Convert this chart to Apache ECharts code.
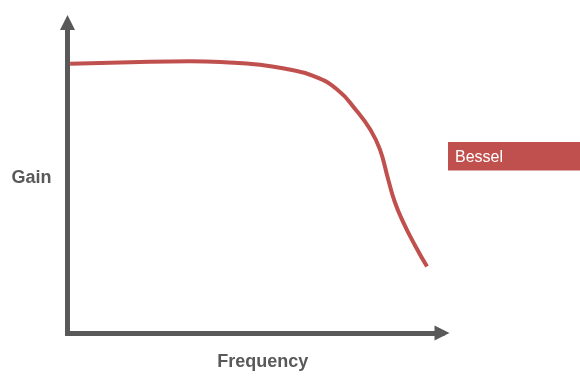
<!DOCTYPE html>
<html>
<head>
<meta charset="utf-8">
<script src="https://cdn.jsdelivr.net/npm/echarts@6/dist/echarts.min.js"></script>
<style>html,body{margin:0;padding:0;background:#fff;}#c{width:580px;height:376px;}</style>
</head>
<body>
<div id="c"></div>
<script>
const seriesName = 'Bessel';
const frequency = [0.7, 16.7, 32.7, 42, 51.4, 58.5, 65.6, 72, 77.3, 80.8, 83.4, 85.6, 87.4, 89.6, 92.8, 96];
const gain = [86.7, 87.2, 87.5, 87.2, 86.4, 85.0, 82.8, 78.4, 71.4, 65.6, 59.2, 49.6, 42.2, 35.8, 28.2, 21.4];
const xName = 'Frequency';
const yName = 'Gain';

const chart = echarts.init(document.getElementById('c'), null, {renderer: 'canvas'});
const axisColor = '#595959';
const nameStyle = {fontFamily: 'Liberation Sans', fontWeight: 'bold', fontSize: 18, color: axisColor};
const axisCommon = {
  type: 'value', min: 0, max: 100,
  splitLine: {show: false}, axisTick: {show: false}, axisLabel: {show: false},
  axisLine: {show: true, symbol: ['none', 'triangle'], symbolSize: [15, 15], symbolOffset: [0, 0],
    lineStyle: {color: axisColor, width: 5, cap: 'square'}},
  nameLocation: 'middle'
};
chart.setOption({
  animation: false,
  grid: {left: 67.5, right: 138, top: 22.5, bottom: 41},
  xAxis: Object.assign({}, axisCommon, {name: xName, nameGap: 20,
    nameTextStyle: Object.assign({}, nameStyle, {padding: [0, 0, 0, 16]})}),
  yAxis: Object.assign({}, axisCommon, {name: yName, nameGap: 16, nameRotate: 0,
    nameTextStyle: nameStyle}),
  legend: {
    data: [seriesName], left: 448, top: 142, orient: 'vertical',
    backgroundColor: '#C0504D', borderRadius: 0,
    padding: [7, 77, 5, 2], icon: 'none', itemWidth: 0, itemHeight: 17,
    textStyle: {color: '#fff', fontFamily: 'Liberation Sans', fontSize: 16}
  },
  series: [{
    name: seriesName, type: 'line', smooth: 0.5, showSymbol: false,
    data: frequency.map((f, i) => [f, gain[i]]),
    lineStyle: {color: '#C0504D', width: 4}, itemStyle: {color: '#C0504D'}
  }]
});
</script>
</body>
</html>
